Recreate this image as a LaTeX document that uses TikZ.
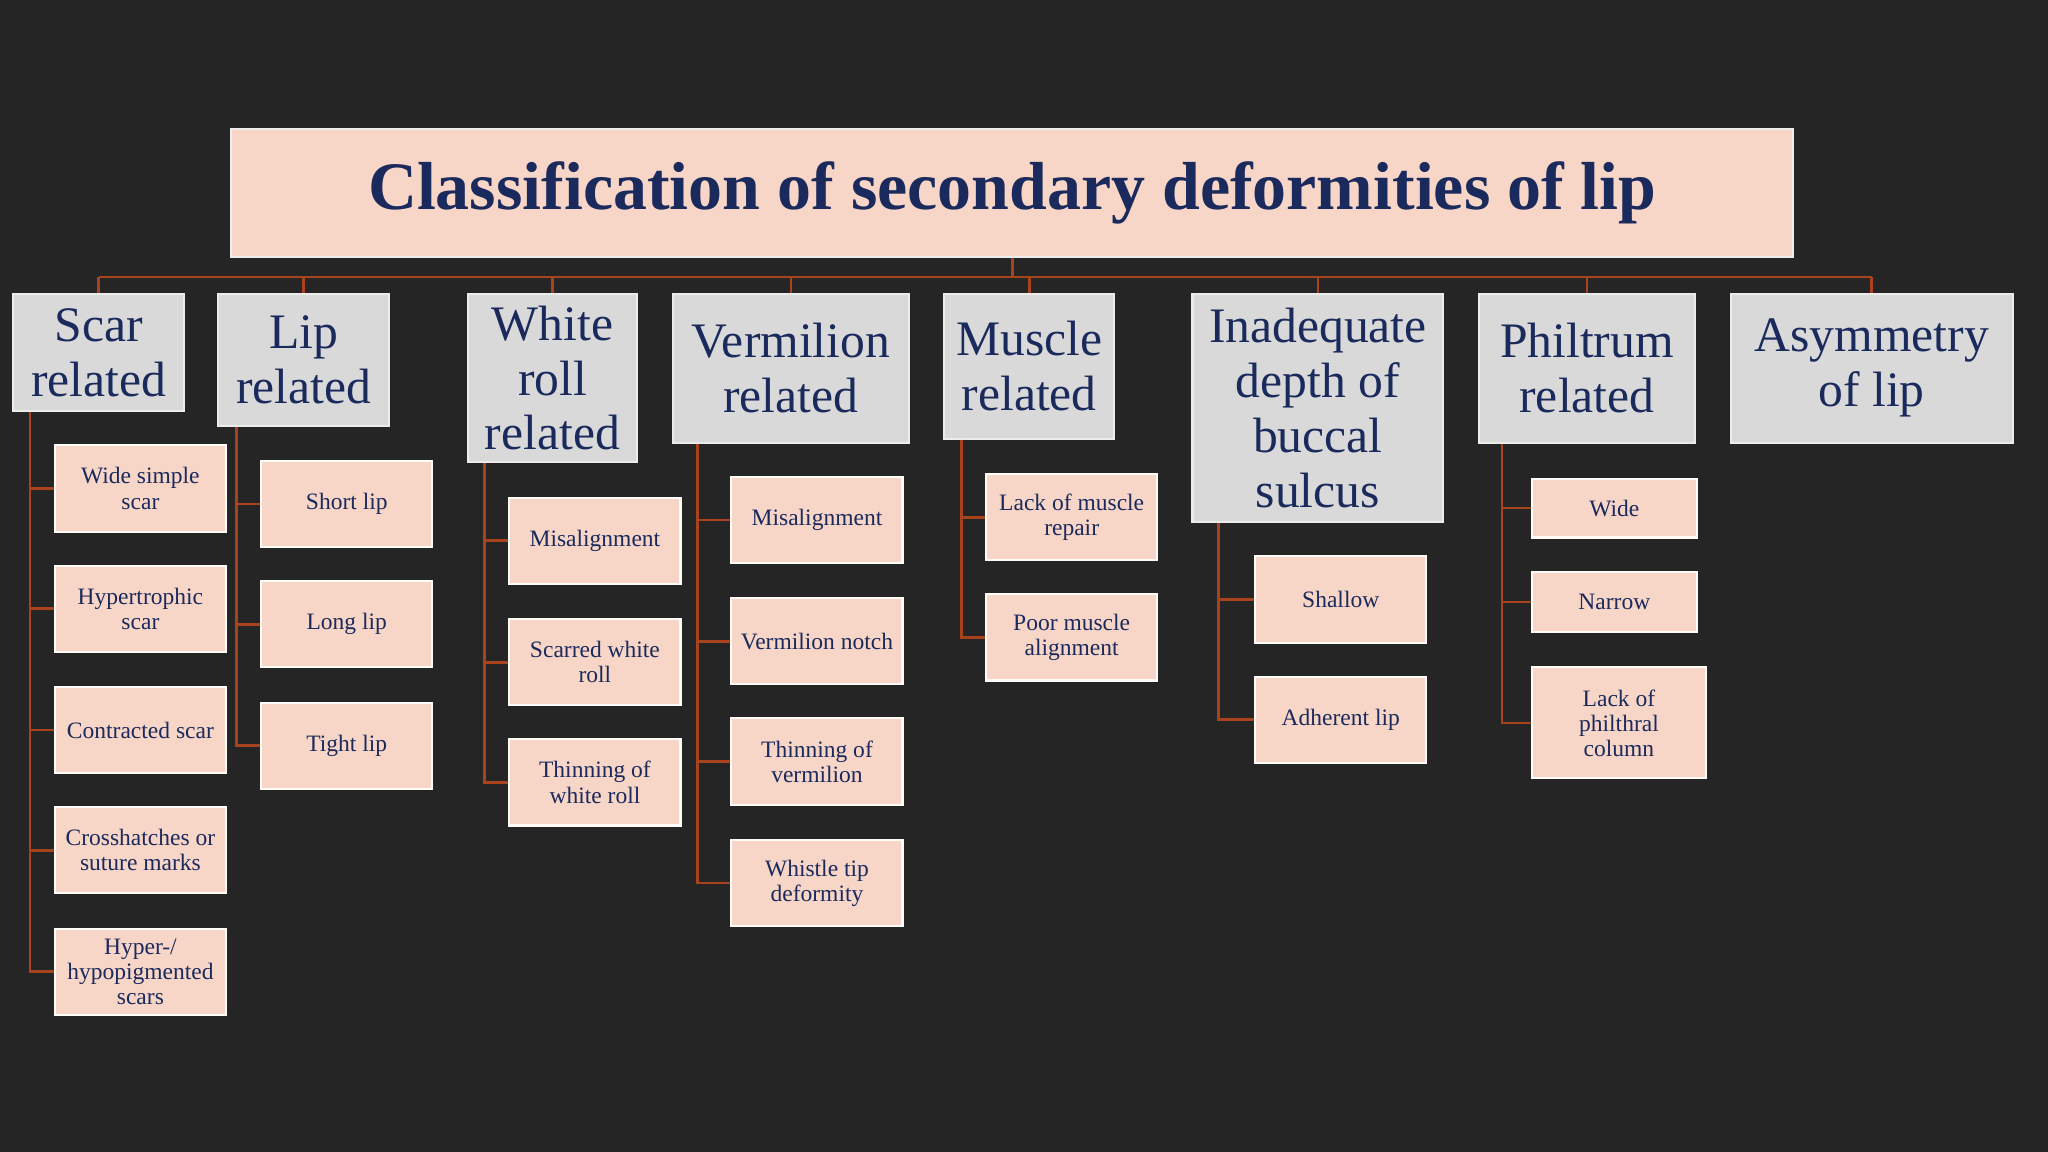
\documentclass[tikz,border=0pt]{standalone}
\usepackage{fontspec}
\setmainfont{Liberation Serif}
\begin{document}
\begin{tikzpicture}[x=0.5pt,y=-0.5pt,
  cat/.style={fill=catgray,draw=white!85!gray,line width=0.8pt,text=navy,align=center,font=\fontsize{19}{21}\selectfont,inner sep=0pt},
  kid/.style={fill=pinkbox,draw=white!90!pinkbox,line width=0.8pt,text=navy,align=center,font=\fontsize{9}{9.6}\selectfont,inner sep=0pt,minimum width=65.5pt,minimum height=33pt},
  conn/.style={draw=rust,line width=1pt}]
\definecolor{bg}{HTML}{252525}
\definecolor{catgray}{HTML}{D9D9D9}
\definecolor{pinkbox}{HTML}{F7D5C7}
\definecolor{navy}{HTML}{1B2A5C}
\definecolor{rust}{HTML}{A8431E}
\fill[bg] (0,0) rectangle (1568,882);
\useasboundingbox (0,0) rectangle (1568,882);
\node[fill=pinkbox,draw=white!85!gray,line width=0.8pt,text=navy,minimum width=598pt,minimum height=49pt,font=\fontsize{26}{28}\selectfont\bfseries] (title) at (775,148) {Classification of secondary deformities of lip};
\coordinate (bus) at (775,212);
% categories
\node[cat,minimum width=65.5pt,minimum height=45pt] (c1) at (75.5,270) {Scar\\related};
\node[cat,minimum width=65.5pt,minimum height=50.5pt] (c2) at (232.5,275.5) {Lip\\related};
\node[cat,minimum width=65pt,minimum height=64.5pt] (c3) at (423,289.5) {White\\roll\\related};
\node[cat,minimum width=90.5pt,minimum height=57pt] (c4) at (605.5,282) {Vermilion\\related};
\node[cat,minimum width=65pt,minimum height=55.5pt] (c5) at (788,280.5) {Muscle\\related};
\node[cat,minimum width=96pt,minimum height=87.5pt] (c6) at (1009,312.5) {Inadequate\\depth of\\buccal\\sulcus};
\node[cat,minimum width=83pt,minimum height=57pt] (c7) at (1215,282) {Philtrum\\related};
\node[cat,minimum width=108pt,minimum height=57pt] (c8) at (1433,282) {Asymmetry\\of lip};
\draw[conn] (title.south) -- (bus);
\draw[conn] (c1.north |- bus) -- (c8.north |- bus);
\foreach \c in {c1,c2,c3,c4,c5,c6,c7,c8} \draw[conn] (\c.north) -- (\c.north |- bus);
% children
\node[kid] (a1) at (107.5,374) {Wide simple\\scar};
\node[kid] (a2) at (107.5,466) {Hypertrophic\\scar};
\node[kid] (a3) at (107.5,559) {Contracted scar};
\node[kid] (a4) at (107.5,651) {Crosshatches or\\suture marks};
\node[kid] (a5) at (107.5,744) {Hyper-/\\hypopigmented\\scars};
\node[kid] (b1) at (265.5,386) {Short lip};
\node[kid] (b2) at (265.5,478) {Long lip};
\node[kid] (b3) at (265.5,571) {Tight lip};
\node[kid] (d1) at (455.5,414) {Misalignment};
\node[kid] (d2) at (455.5,507) {Scarred white\\roll};
\node[kid] (d3) at (455.5,599) {Thinning of\\white roll};
\node[kid] (e1) at (625.5,398) {Misalignment};
\node[kid] (e2) at (625.5,491) {Vermilion notch};
\node[kid] (e3) at (625.5,583) {Thinning of\\vermilion};
\node[kid] (e4) at (625.5,676) {Whistle tip\\deformity};
\node[kid] (f1) at (820.5,396) {Lack of muscle\\repair};
\node[kid] (f2) at (820.5,488) {Poor muscle\\alignment};
\node[kid] (g1) at (1026.5,459) {Shallow};
\node[kid] (g2) at (1026.5,551) {Adherent lip};
\node[kid,minimum width=63pt,minimum height=22.5pt] (h1) at (1236,389) {Wide};
\node[kid,minimum width=63pt,minimum height=23pt] (h2) at (1236,461) {Narrow};
\node[kid,minimum width=66.5pt,minimum height=42.5pt] (h3) at (1239.5,553.5) {Lack of\\philthral\\column};
% spines
\newcommand{\spine}[3]{\coordinate (s#1) at (#2,0);
  \draw[conn] (s#1 |- #1.south) |- (#3.west);}
\spine{c1}{23}{a5}\spine{c2}{181}{b3}\spine{c3}{371}{d3}\spine{c4}{534}{e4}
\spine{c5}{736}{f2}\spine{c6}{933}{g2}\spine{c7}{1150}{h3}
\foreach \k in {a1,a2,a3,a4} \draw[conn] (sc1 |- \k.west) -- (\k.west);
\foreach \k in {b1,b2} \draw[conn] (sc2 |- \k.west) -- (\k.west);
\foreach \k in {d1,d2} \draw[conn] (sc3 |- \k.west) -- (\k.west);
\foreach \k in {e1,e2,e3} \draw[conn] (sc4 |- \k.west) -- (\k.west);
\draw[conn] (sc5 |- f1.west) -- (f1.west);
\draw[conn] (sc6 |- g1.west) -- (g1.west);
\foreach \k in {h1,h2} \draw[conn] (sc7 |- \k.west) -- (\k.west);
\end{tikzpicture}
\end{document}
